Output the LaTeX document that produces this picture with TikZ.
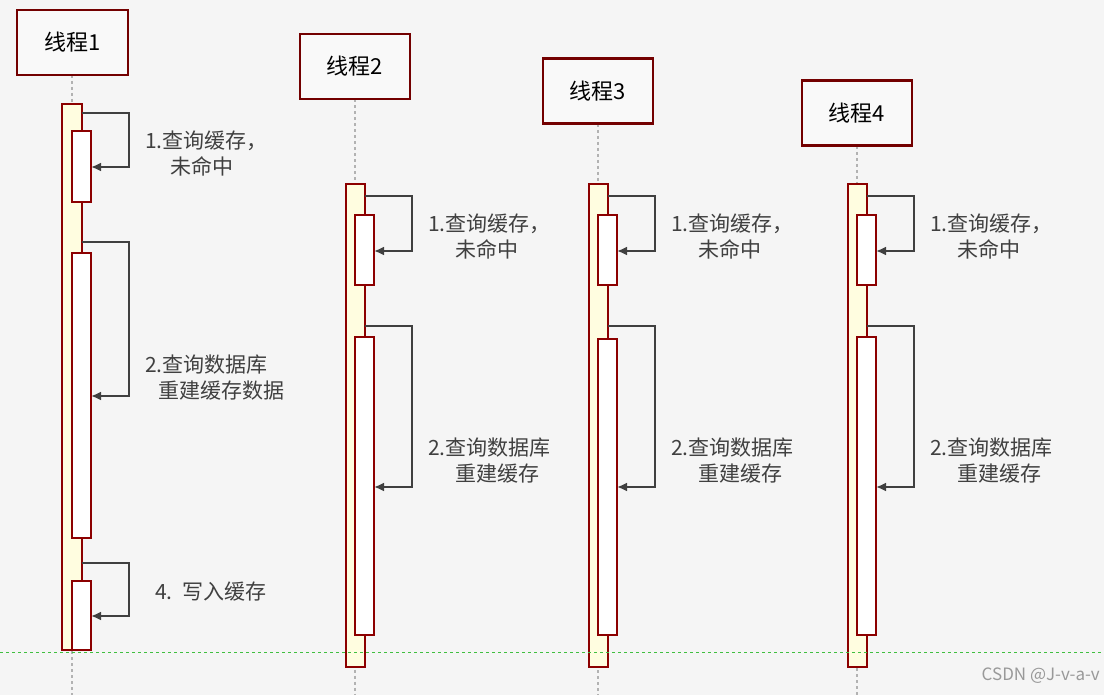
\documentclass[tikz,border=0pt]{standalone}
\usepackage{fontspec}
\setmainfont{Noto Sans CJK SC}
\usetikzlibrary{arrows.meta}
\begin{document}
\begin{tikzpicture}[x=1pt,y=-1pt,
  head/.style={draw=red!45!black,line width=2.2pt,fill=white!95!gray},
  act/.style={draw=red!55!black,line width=2pt,fill=yellow!12},
  inn/.style={draw=red!55!black,line width=2pt,fill=white},
  life/.style={gray!60,dashed,line width=1.2pt},
  loop/.style={draw=black!75,line width=2pt,-{Latex[length=10pt,width=9pt]}},
  lbl/.style={anchor=west,font=\fontsize{21}{24}\selectfont,text=black!75,inner sep=0pt}]
\fill[gray!8] (0,0) rectangle (1104,695);
\useasboundingbox (0,0) rectangle (1104,695);
% thread 1
\draw[life] (72,75) -- (72,695);
\node[head,minimum width=111,minimum height=65] (h1) at (72.5,42.5) {\fontsize{22}{26}\selectfont 线程1};
\filldraw[act] (62,104) rectangle (82,650);
\filldraw[inn] (72,131) rectangle (91,202);
\filldraw[inn] (72,253) rectangle (91,538);
\filldraw[inn] (72,581) rectangle (91,650);
\coordinate (a1) at (82,113); \coordinate (b1) at (91,167);
\draw[loop] (a1) -- (129,113) -- (129,167) -- (b1);
\coordinate (a2) at (82,242); \coordinate (b2) at (91,396);
\draw[loop] (a2) -- (129,242) -- (129,396) -- (b2);
\coordinate (a3) at (82,563); \coordinate (b3) at (91,616);
\draw[loop] (a3) -- (129,563) -- (129,616) -- (b3);
\node[lbl] (t11) at (145,141) {1.查询缓存，};
\node[lbl] (t12) at (170,166) {未命中};
\node[lbl] (t13) at (145,365) {2.查询数据库};
\node[lbl] (t14) at (158,391) {重建缓存数据};
\node[lbl] (t15) at (155,592) {4.\ \ 写入缓存};
% threads 2-4
\foreach \n/\x/\hy/\ty/\iy in {2/355/66.5/428/337, 3/598/91/671/339, 4/857/113/930/337}{
  \draw[life] (\x,\hy+33) -- (\x,695);
  \node[head,minimum width=110,minimum height=65] (h\n) at (\x,\hy) {\fontsize{22}{26}\selectfont 线程\n};
  \filldraw[act] (\x-9,184) rectangle (\x+10,667);
  \filldraw[inn] (\x,215) rectangle (\x+19,285);
  \filldraw[inn] (\x,\iy) rectangle (\x+19,635);
  \coordinate (p\n) at (\x+10,196); \coordinate (q\n) at (\x+19,251);
  \draw[loop] (p\n) -- (\x+57,196) -- (\x+57,251) -- (q\n);
  \coordinate (r\n) at (\x+10,326); \coordinate (s\n) at (\x+19,487);
  \draw[loop] (r\n) -- (\x+57,326) -- (\x+57,487) -- (s\n);
  \node[lbl] (u\n) at (\ty,224) {1.查询缓存，};
  \node[lbl] (v\n) at (\ty+27,249) {未命中};
  \node[lbl] (w\n) at (\ty,448) {2.查询数据库};
  \node[lbl] (z\n) at (\ty+27,474) {重建缓存};
}
\draw[green!50!gray,dashed,line width=0.8pt] (0,652) -- (1104,652);
\node[anchor=east,font=\fontsize{17}{20}\selectfont,text=gray!80,inner sep=0pt] (wm) at (1100,676) {CSDN @J-v-a-v};
\end{tikzpicture}
\end{document}
